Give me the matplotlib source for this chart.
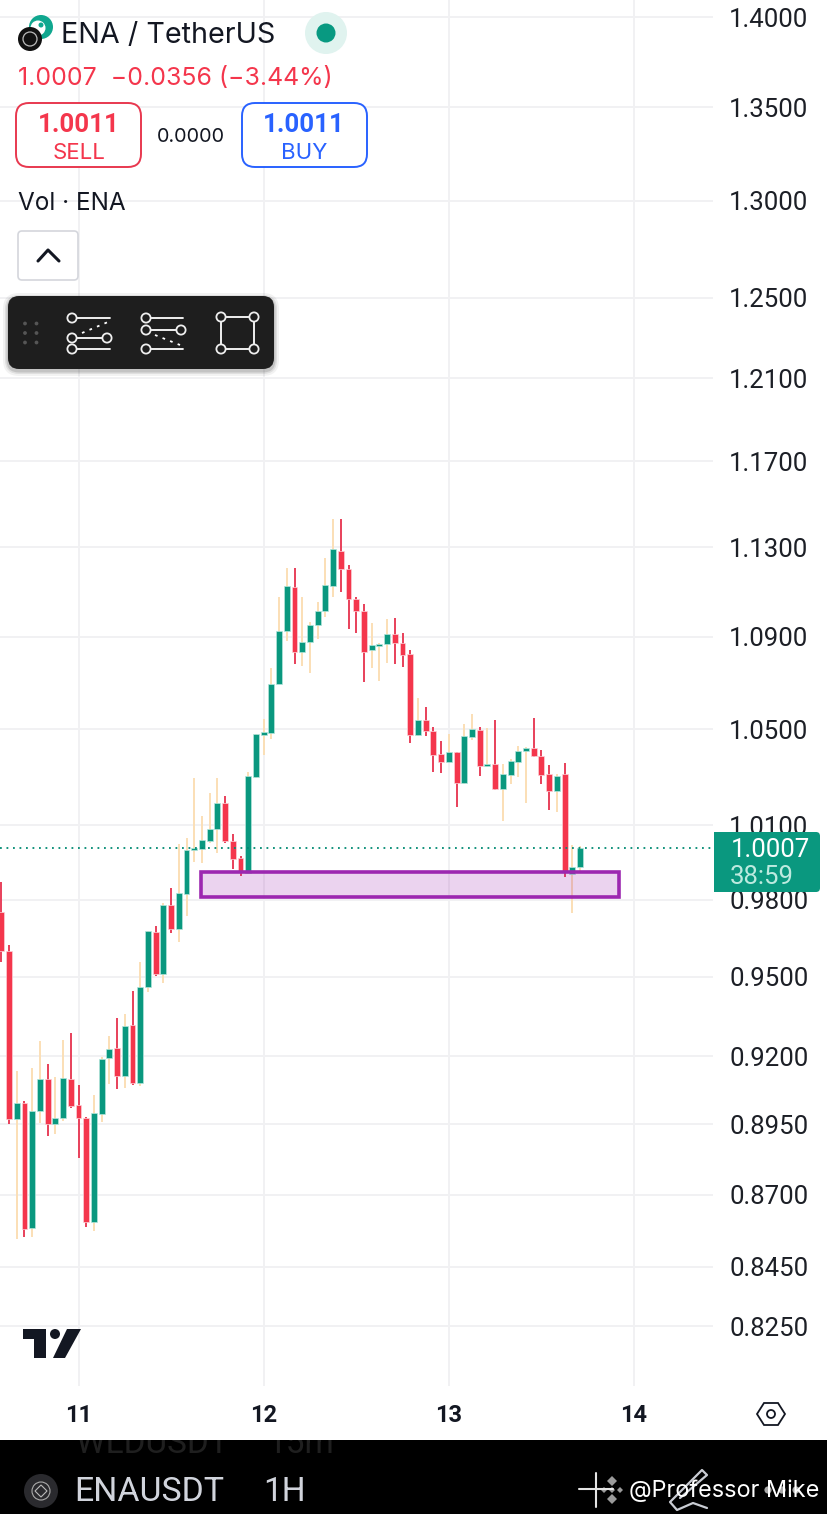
import numpy as np
import matplotlib
matplotlib.use("Agg")
import matplotlib.pyplot as plt
from matplotlib.patches import FancyBboxPatch, Rectangle, Circle, Polygon

plt.rcParams['font.family'] = ['Inter', 'DejaVu Sans']
NUM = ['Roboto', 'DejaVu Sans']

# ---------- data ----------
hours = list(range(-10, 66))  # hours after the start of day 11
opens = [.9752,.9600,.8970,.9028,.8584,.8999,.9116,.8952,.8973,.9116,
         .9021,.8973,.8605,.8988,.9194,.9231,.9127,.9318,.9101,.9461,
         .9674,.9511,.9780,.9686,.9824,.9999,1.0004,1.0036,1.0085,1.0191,
         1.0036,.9967,.9908,1.0299,1.0475,1.0484,1.0694,1.0925,1.1121,1.0832,
         1.0876,1.0952,1.1014,1.1126,1.1284,1.1202,1.1067,1.1014,1.0841,1.0859,
         1.0867,1.0912,1.0872,1.0824,1.0475,1.0539,1.0492,1.0395,1.0362,1.0403,
         1.0274,1.0467,1.0497,1.0345,1.0353,1.0249,1.0308,1.0362,1.0407,1.0420,
         1.0387,1.0312,1.0241,1.0312,.9904,.9931]
highs = [.9872,.9623,.9146,.9035,.9157,.9257,.9172,.9124,.9261,.9287,
         .9094,.8977,.9057,.9197,.9276,.9344,.9359,.9446,.9557,.9678,
         .9698,.9788,.9848,1.0024,1.0049,1.0295,1.0138,1.0233,1.0295,1.0220,
         1.0065,.9975,1.0320,1.0480,1.0543,1.0763,1.1076,1.1207,1.1207,1.1076,
         1.0965,1.1054,1.1252,1.1431,1.1431,1.1220,1.1076,1.1045,1.0960,1.0872,
         1.0978,1.0983,1.0914,1.0841,1.0633,1.0594,1.0509,1.0450,1.0480,1.0403,
         1.0522,1.0565,1.0509,1.0505,1.0539,1.0353,1.0374,1.0428,1.0424,1.0548,
         1.0412,1.0349,1.0312,1.0358,1.0020,1.0016]
lows = [.9557,.8952,.8545,.8552,.8552,.8956,.8909,.8916,.8963,.9010,
        .8830,.8587,.8573,.8959,.9098,.9079,.9083,.9094,.9090,.9442,
        .9504,.9477,.9670,.9635,.9737,.9951,.9948,1.0028,.9988,1.0028,
        .9923,.9896,.9904,1.0295,1.0391,1.0458,1.0694,1.0881,1.0780,1.0772,
        1.0741,1.0890,1.0987,1.1076,1.1098,1.0934,1.0916,1.0702,1.0763,1.0707,
        1.0785,1.0780,1.0767,1.0441,1.0471,1.0471,1.0320,1.0316,1.0362,1.0175,
        1.0270,1.0454,1.0303,1.0341,1.0245,1.0118,1.0270,1.0299,1.0191,1.0383,
        1.0270,1.0163,1.0155,.9892,.9748,.9912]
closes = [.9600,.8970,.9028,.8580,.8999,.9116,.8952,.8973,.9120,.9017,
          .8973,.8605,.8992,.9190,.9227,.9127,.9314,.9101,.9461,.9678,
          .9511,.9780,.9686,.9828,.9999,1.0006,1.0040,1.0085,1.0191,1.0036,
          .9964,.9912,1.0303,1.0480,1.0488,1.0694,1.0925,1.1126,1.0832,1.0876,
          1.0952,1.1014,1.1130,1.1293,1.1202,1.1067,1.1014,1.0832,1.0863,1.0867,
          1.0912,1.0872,1.0819,1.0475,1.0539,1.0492,1.0391,1.0362,1.0403,1.0274,
          1.0471,1.0501,1.0345,1.0353,1.0249,1.0312,1.0366,1.0407,1.0420,1.0387,
          1.0308,1.0241,1.0303,.9912,.9931,1.0007]
price_ticks = [1.40,1.35,1.30,1.25,1.21,1.17,1.13,1.09,1.05,1.01,.98,.95,.92,.895,.87,.845,.825]
price_labels = ['1.4000','1.3500','1.3000','1.2500','1.2100','1.1700','1.1300','1.0900','1.0500',
                '1.0100','0.9800','0.9500','0.9200','0.8950','0.8700','0.8450','0.8250']
day_ticks = [11, 12, 13, 14]
last_price = 1.0007
zone_start, zone_end = 11.662, 13.92
zone_low, zone_high = 0.9811, 0.9912

GREEN = '#0a987f'; RED = '#f4364c'; WICK_G = '#fbdfb6'; WICK_R = '#e8405a'
W, H = 828, 1514

fig = plt.figure(figsize=(W/100, H/100), dpi=100, facecolor='white')
ax = fig.add_axes([0, 0, 1, 1])
ax.set_yscale('log')
ppd = 185.17
ax.set_xlim(11 - 78.5/ppd, 11 + (W-78.5)/ppd)
ax.set_ylim(0.825*np.exp((1326-H)/2475), 0.825*np.exp(1326/2475))
for s in ax.spines.values():
    s.set_visible(False)

# grid
for p in price_ticks:
    ax.axhline(p, xmin=0, xmax=712/W, color='#f1f1f3', lw=1.4, zorder=1)
for d in day_ticks:
    ax.axvline(d, ymin=(H-1385)/H, ymax=1, color='#f1f1f3', lw=1.4, zorder=1)

# candles
x = 11 + np.array(hours)/24
o, h, l, c = map(np.array, (opens, highs, lows, closes))
up = c >= o
ax.vlines(x[up], l[up], h[up], color=WICK_G, lw=1.4, zorder=2)
ax.vlines(x[~up], l[~up], h[~up], color=WICK_R, lw=1.4, zorder=2)
bw = 5.9/ppd
ax.bar(x[up], np.abs(c-o)[up], bottom=np.minimum(o, c)[up], width=bw, color=GREEN,
       edgecolor='#b5e6dc', lw=0.5, zorder=3)
ax.bar(x[~up], np.abs(c-o)[~up], bottom=np.minimum(o, c)[~up], width=bw, color=RED,
       edgecolor='#fbd0d6', lw=0.5, zorder=3)

# zone and last-price line
ax.axhline(last_price, xmin=0, xmax=714/W, color='#008a72', lw=1.3, ls=(0, (1, 2.6)), zorder=4)
ax.add_patch(Rectangle((zone_start, zone_low), zone_end-zone_start, zone_high-zone_low,
                       facecolor=(0.61, 0.15, 0.69, 0.2), edgecolor='#9c27b0', lw=2.6, zorder=5))

# axes labels inside the picture
ax.yaxis.tick_right()
ax.set_yticks(price_ticks)
ax.set_yticklabels(price_labels, family=NUM)
ax.minorticks_off()
ax.tick_params(axis='y', length=0, pad=-14.2, labelsize=18.5, labelcolor='#1c1f26')
for t in ax.get_yticklabels():
    t.set_ha('right')
ax.set_xticks(day_ticks)
ax.set_xticklabels([str(d) for d in day_ticks], family=NUM)
ax.tick_params(axis='x', length=0, pad=-79, labelsize=17, labelcolor='#131722')
for t in ax.get_xticklabels():
    t.set_fontweight('bold')

# ---------- interface overlay, in pixels ----------
ui = fig.add_axes([0, 0, 1, 1], facecolor='none')
ui.set_xlim(0, W); ui.set_ylim(H, 0); ui.axis('off')

def box(x0, y0, x1, y1, r, fc='white', ec='none', lw=1.5, z=6, alpha=None):
    p = FancyBboxPatch((x0+r, y0+r), x1-x0-2*r, y1-y0-2*r, boxstyle=f'round,pad={r},rounding_size={r}',
                       fc=fc, ec=ec, lw=lw, zorder=z, alpha=alpha)
    ui.add_patch(p)
    return p

def line(xs, ys, color='white', lw=1.3, z=8, **kw):
    ui.plot(xs, ys, color=color, lw=lw, zorder=z, solid_capstyle='round', **kw)

def ring(cx, cy, r=4.6, ec='#eeeeee', fc='#1e1e1e', lw=1.3, z=9):
    ui.add_patch(Circle((cx, cy), r, fc=fc, ec=ec, lw=lw, zorder=z))

# header
ui.add_patch(Circle((41, 27), 12, fc='#10a78f', zorder=6))
ui.add_patch(Circle((38, 28), 7.5, fc='white', zorder=6.2))
ui.add_patch(Circle((41, 25), 2.5, fc='#10a78f', zorder=6.4))
ui.add_patch(Circle((30, 39), 12, fc='#111111', zorder=7))
ui.add_patch(Circle((30, 39), 7, fc='none', ec='#bbbbbb', lw=0.9, zorder=8))
ui.text(61, 35, 'ENA / TetherUS', fontsize=20.7, color='#131722', va='center', zorder=8)
ui.add_patch(Circle((326, 33), 21, fc='#e0f3ef', zorder=6))
ui.add_patch(Circle((326, 33), 9.5, fc='#089981', zorder=7))
ui.text(18, 78, '1.0007  −0.0356 (−3.44%)', fontsize=17.9, color=RED, va='center', zorder=8)

box(16, 103, 141, 167, 13, ec='#e8384f', lw=1.4)
ui.text(79, 125, '1.0011', fontsize=18.6, family=NUM, color=RED, weight='bold', ha='center', va='center', zorder=8)
ui.text(79, 153, 'SELL', fontsize=16, color=RED, ha='center', va='center', zorder=8)
ui.text(191, 137, '0.0000', fontsize=14.3, color='#131722', ha='center', va='center', zorder=8)
box(242, 103, 367, 167, 13, ec='#2962ff', lw=1.4)
ui.text(304, 125, '1.0011', fontsize=18.6, family=NUM, color='#2962ff', weight='bold', ha='center', va='center', zorder=8)
ui.text(304, 153, 'BUY', fontsize=16, color='#2962ff', ha='center', va='center', zorder=8)
ui.text(18, 204, 'Vol · ENA', fontsize=17.5, color='#131722', va='center', zorder=8)

box(18, 231, 78, 280, 4, ec='#d4d6dc', lw=1.2)
line([38, 48, 59], [261, 250, 261], color='#131722', lw=2.2)

# toolbar with a soft shadow
for grow, a in ((5, 0.05), (3, 0.08), (1.5, 0.12)):
    box(8-grow, 296+2-grow, 274+grow, 369+2+grow, 11+grow, fc='black', z=5.5, alpha=a)
box(8, 296, 274, 369, 11, fc='#1e1e1e')
for dx in (25, 36.5):
    for dy in (323.5, 333, 342.5):
        ui.add_patch(Circle((dx, dy), 1.9, fc='#565656', zorder=8))
# icon 1
line([72, 110], [318, 318]); line([72, 107], [338, 338]); line([72, 110], [349, 349])
line([82, 108], [333, 322], ls=(0, (1.5, 3)))
for cx, cy in [(72, 318), (72, 338), (107, 338), (72, 349)]:
    ring(cx, cy)
# icon 2
line([146, 183], [318, 318]); line([146, 181], [330, 330]); line([146, 183], [349, 349])
line([155, 180], [335, 345], ls=(0, (1.5, 3)))
for cx, cy in [(146, 318), (146, 330), (181, 330), (146, 349)]:
    ring(cx, cy)
# icon 3
line([221, 254, 254, 221, 221], [317, 317, 349, 349, 317])
for cx, cy in [(221, 317), (254, 317), (221, 349), (254, 349)]:
    ring(cx, cy)

# price tag
box(714, 832, 820, 892, 4, fc='#0a987f')
ui.add_patch(Rectangle((714, 832), 20, 60, fc='#0a987f', ec='none', zorder=6))
ui.text(770, 850, '1.0007', fontsize=18.5, family=NUM, color='white', ha='center', va='center', zorder=8)
ui.text(762, 877, '38:59', fontsize=18.5, family=NUM, color='#bdeadf', ha='center', va='center', zorder=8)

# TradingView mark
ui.add_patch(Polygon([(23, 1329), (46, 1329), (46, 1358), (34, 1358), (34, 1339), (23, 1339)], fc='#131722', zorder=7))
ui.add_patch(Circle((55, 1334), 5, fc='#131722', zorder=7))
ui.add_patch(Polygon([(67, 1329), (81, 1329), (65, 1358), (53, 1358)], fc='#131722', zorder=7))

# settings icon
ui.add_patch(Polygon([(757, 1414), (764, 1403), (778, 1403), (785, 1414), (778, 1425), (764, 1425)],
                     fc='white', ec='#131722', lw=1.3, zorder=7))
ui.add_patch(Circle((771, 1414), 4, fc='white', ec='#131722', lw=1.3, zorder=8))

# footer
foot = Rectangle((0, 1440), W, 74, fc='black', ec='none', zorder=6)
ui.add_patch(foot)
for tx, s in ((76, 'WLDUSDT'), (267, '15m')):
    t = ui.text(tx, 1453, s, fontsize=24, family=NUM, color='#1f1f1f', va='baseline', zorder=7)
    t.set_clip_on(True)
    t.set_clip_path(foot)
ui.add_patch(Circle((41, 1491), 17, fc='#2a2a2e', zorder=7))
ui.add_patch(Circle((41, 1491), 9, fc='none', ec='#aaaaaa', lw=0.8, zorder=8))
ui.add_patch(Polygon([(41, 1485), (47, 1491), (41, 1497), (35, 1491)], fc='none', ec='#bbbbbb', lw=0.8, zorder=8))
ui.text(74, 1492, 'ENAUSDT', fontsize=24.4, family=NUM, color='#d1d4dc', va='center', zorder=8)
ui.text(263, 1492, '1H', fontsize=24, family=NUM, color='#d1d4dc', va='center', zorder=8)
# watermark
line([579, 613], [1489, 1489], color='#e4e4e4', lw=1.5)
line([596, 596], [1473, 1507], color='#e4e4e4', lw=1.5)
for cx, cy, r in ((612, 1481, 5), (612, 1499, 5), (620, 1490, 3), (604, 1490, 3), (612, 1490, 3)):
    ui.add_patch(Polygon([(cx, cy-r), (cx+r, cy), (cx, cy+r), (cx-r, cy)], fc='#9a9a9a', zorder=7))
for cx in (768, 782, 796):
    ui.add_patch(Circle((cx, 1490), 3.6, fc='#a8a8a8', zorder=7))
line([680, 707, 702, 670, 677, 693, 707], [1498, 1475, 1470, 1502, 1510, 1503, 1508], color='#c9ccd3', lw=1.6)
ui.text(629, 1491, '@Professor Mike', fontsize=16.9, color='white', va='center', zorder=8)

fig.savefig('out.png', dpi=100, facecolor='white')
